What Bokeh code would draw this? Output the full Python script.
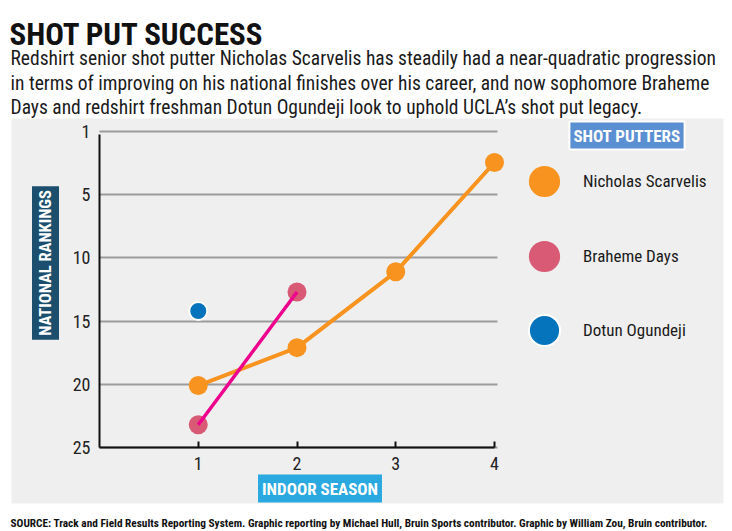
import math
from bokeh.plotting import figure
from bokeh.models import (Range1d, LinearAxis, Grid, FixedTicker, Label, Legend,
                          LegendItem, BoxAnnotation)
from bokeh.embed import file_html
from bokeh.resources import INLINE

# ---------------- data ----------------
season_ticks = [1, 2, 3, 4]
rank_ticks = [0, 5, 10, 15, 20, 25]
rank_tick_labels = {0: "1", 5: "5", 10: "10", 15: "15", 20: "20", 25: "25"}

scarvelis_seasons = [1, 2, 3, 4]
scarvelis_rank = [20.1, 17.1, 11.1, 2.45]
days_seasons = [1, 2]
days_rank = [23.2, 12.7]
ogundeji_seasons = [1]
ogundeji_rank = [14.2]
names = ["Nicholas Scarvelis", "Braheme Days", "Dotun Ogundeji"]

title_text = "SHOT PUT SUCCESS"
subtitle_lines = [
    "Redshirt senior shot putter Nicholas Scarvelis has steadily had a near-quadratic progression",
    "in terms of improving on his national finishes over his career, and now sophomore Braheme",
    "Days and redshirt freshman Dotun Ogundeji look to uphold UCLA\u2019s shot put legacy.",
]
source_text = ("SOURCE: Track and Field Results Reporting System. Graphic reporting by Michael Hull, "
               "Bruin Sports contributor. Graphic by William Zou, Bruin contributor.")

ORANGE = "#f7931e"
PINK = "#d85a75"
MAGENTA = "#ec008c"
BLUE = "#0574bd"
FONT = "'Liberation Sans Narrow', 'Roboto Condensed', 'DejaVu Sans Condensed', sans-serif"
NAN = float("nan")

# ---------------- geometry ----------------
W, H = 732, 531
X0_PX, X4_PX = 99, 494
Y0_PX, Y25_PX = 131, 447
xs = (X4_PX - X0_PX) / 4
ys = (Y25_PX - Y0_PX) / 25
x_range = Range1d(-X0_PX / xs, 4 + (W - X4_PX) / xs)
y_range = Range1d(25 + (H - Y25_PX) / ys, -Y0_PX / ys)

p = figure(width=W, height=H, x_range=x_range, y_range=y_range,
           x_axis_type=None, y_axis_type=None, output_backend="svg",
           toolbar_location=None, min_border=0, outline_line_color=None,
           background_fill_color="white", border_fill_color="white")
p.extra_x_ranges = {"px": Range1d(0, W)}
p.extra_y_ranges = {"px": Range1d(H, 0)}

panel = BoxAnnotation(left=11, right=723, top=118, bottom=503,
                      x_range_name="px", y_range_name="px",
                      fill_color="#efefef", fill_alpha=1, line_color=None,
                      level="image")
p.add_layout(panel)

# ---------------- axes & grid ----------------
yticker = FixedTicker(ticks=rank_ticks)
xticker = FixedTicker(ticks=season_ticks)

yaxis = LinearAxis(ticker=yticker, fixed_location=0, bounds=(0.25, 25),
                   major_label_overrides=rank_tick_labels,
                   major_tick_in=0, major_tick_out=0, minor_tick_in=0, minor_tick_out=0,
                   axis_line_color="#111111", axis_line_width=2,
                   major_label_standoff=9,
                   major_label_text_font=FONT, major_label_text_font_size="18px",
                   major_label_text_color="#222222")
p.add_layout(yaxis, "left")

xaxis = LinearAxis(ticker=xticker, fixed_location=25, bounds=(0, 4),
                   major_tick_in=6, major_tick_out=0, minor_tick_in=0, minor_tick_out=0,
                   major_tick_line_color="#111111", major_tick_line_width=2,
                   axis_line_color="#111111", axis_line_width=2,
                   major_label_standoff=9,
                   major_label_text_font=FONT, major_label_text_font_size="18px",
                   major_label_text_color="#222222")
p.add_layout(xaxis, "below")

grid = Grid(dimension=1, ticker=yticker, cross_bounds=(0, 4.03),
            grid_line_color="#9c9c9c", grid_line_width=2, level="underlay")
p.add_layout(grid)

# ---------------- series ----------------
p.line(scarvelis_seasons, scarvelis_rank, line_color=ORANGE, line_width=4)
p.scatter(scarvelis_seasons, scarvelis_rank, size=19, fill_color=ORANGE, line_color=None)
p.scatter(days_seasons, days_rank, size=19, fill_color=PINK, line_color=None)
p.line(days_seasons, days_rank, line_color=MAGENTA, line_width=3.5)
p.scatter(ogundeji_seasons, ogundeji_rank, size=18, fill_color=BLUE,
          line_color="white", line_width=2)

# ---------------- legend (one legend per entry; marker size = 0.4 * glyph box) ----------------
leg_or = p.scatter([NAN], [NAN], fill_color=ORANGE, line_color=None)
leg_pk = p.scatter([NAN], [NAN], fill_color=PINK, line_color=None)
leg_bl = p.scatter([NAN], [NAN], fill_color=BLUE, line_color="white", line_width=2)
GLYPH = 78
legend_centers = [181, 256, 330]
for name, rend, cy in zip(names, [leg_or, leg_pk, leg_bl], legend_centers):
    lg = Legend(items=[LegendItem(label=name, renderers=[rend])],
                location=(544 - GLYPH / 2, H - cy - GLYPH / 2),
                glyph_width=GLYPH, glyph_height=GLYPH, label_standoff=0, spacing=0,
                padding=0, margin=0, border_line_color=None,
                background_fill_alpha=0,
                label_text_font=FONT, label_text_font_size="17px",
                label_text_color="#1a1a1a")
    p.add_layout(lg)

# ---------------- texts ----------------
def px_label(**kw):
    lab = Label(x_range_name="px", y_range_name="px", text_font=FONT, **kw)
    p.add_layout(lab)
    return lab

px_label(x=9, y=34, text=title_text, text_font_size="31px", text_font_style="bold",
         text_color="#111111", text_baseline="alphabetic")
for i, line in enumerate(subtitle_lines):
    px_label(x=10, y=58 + 24.5 * i, text=line, text_font_size="19.5px",
             text_color="#1a1a1a", text_baseline="alphabetic")

px_label(x=10, y=523, text=source_text, text_font_size="11.3px", text_font_style="bold",
         text_color="#111111", text_baseline="alphabetic")

px_label(x=626.5, y=135, text="SHOT PUTTERS", text_font_size="17px", text_font_style="bold",
         text_color="white", text_align="center", text_baseline="middle",
         background_fill_color="#5a8fd2", border_line_color="white", border_line_width=2,
         padding=4)

px_label(x=45, y=262.5, text="NATIONAL RANKINGS", angle=math.pi / 2, text_font_size="16.5px",
         text_font_style="bold", text_color="white", text_align="center",
         text_baseline="middle", background_fill_color="#1c4f6e", padding=4)

px_label(x=319.5, y=488, text="INDOOR SEASON", text_font_size="17px", text_font_style="bold",
         text_color="white", text_align="center", text_baseline="middle",
         background_fill_color="#2aa9e0", padding=4)

open("out.html", "w").write(file_html(p, INLINE))
